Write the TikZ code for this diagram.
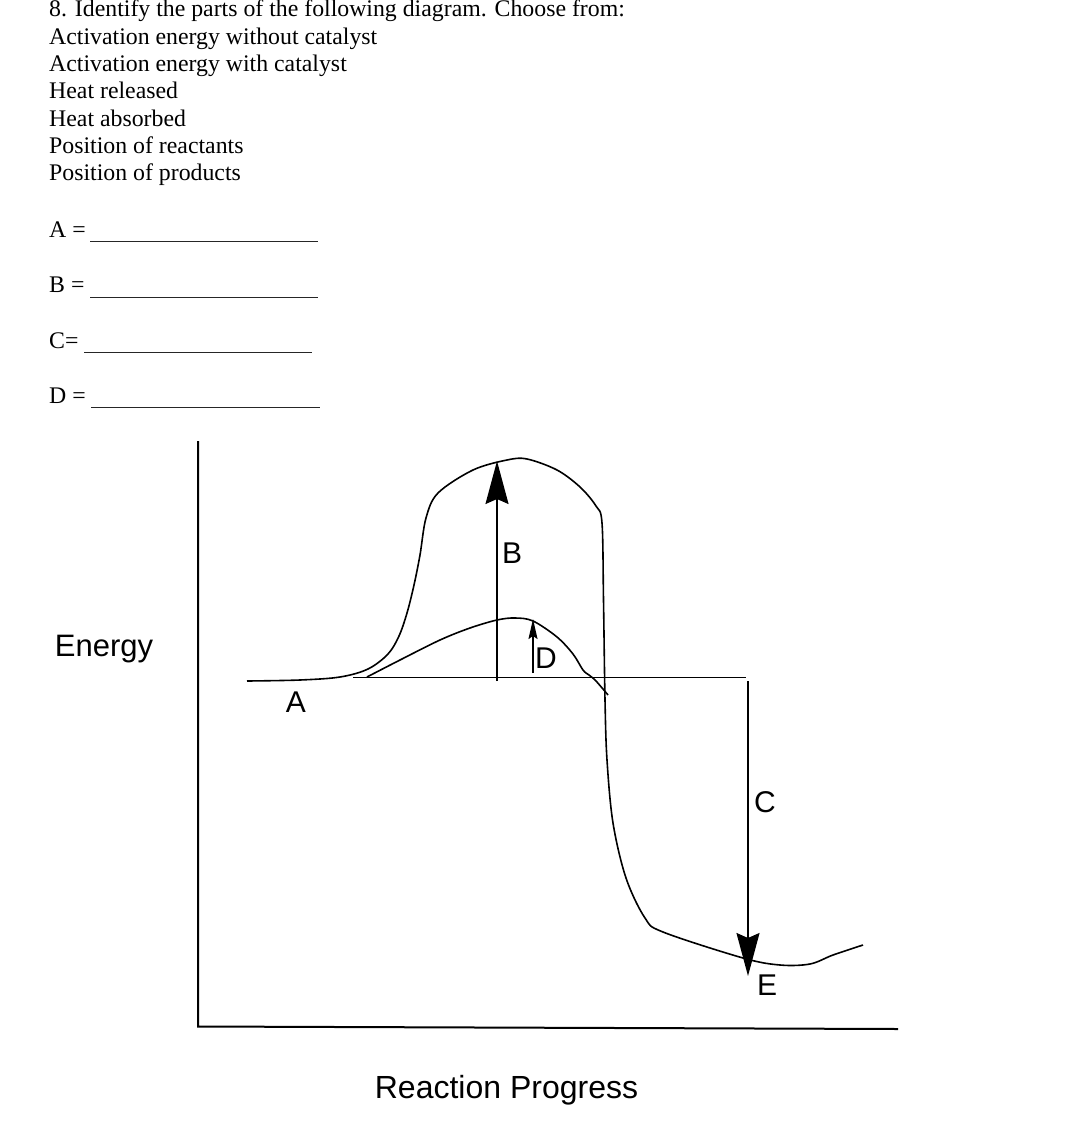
\documentclass[tikz,border=0pt]{standalone}
\usepackage{fontspec}
\setmainfont{Liberation Serif}
\newfontfamily\arialf{Liberation Sans}
\usetikzlibrary{arrows.meta}
\tikzset{
  qtext/.style={anchor=base west, inner sep=0pt, font=\fontsize{23.8}{27}\selectfont},
  blank/.style={line width=1pt, black!85},
  axis/.style={line width=2pt},
  curve/.style={line width=1.6pt, line join=round},
  lbl/.style={inner sep=0pt, font=\arialf\fontsize{30}{34}\selectfont},
  axlbl/.style={inner sep=0pt, font=\arialf\fontsize{31}{35}\selectfont},
  bigarrow/.style={line width=1.6pt, -{Stealth[length=43pt,width=23pt,inset=5pt]}},
  smallarrow/.style={line width=1.6pt, -{Stealth[length=20pt,width=9pt,inset=3pt]}},
}
\begin{document}
\begin{tikzpicture}[x=1pt,y=-1pt]
\useasboundingbox (0,0) rectangle (1074,1140);
% question text
\node[qtext] (q1) at (49,17) {8. Identify the parts of the following diagram. Choose from:};
\node[qtext] (q2) at (49,44.3) {Activation energy without catalyst};
\node[qtext] (q3) at (49,71.6) {Activation energy with catalyst};
\node[qtext] (q4) at (49,98.9) {Heat released};
\node[qtext] (q5) at (49,126.2) {Heat absorbed};
\node[qtext] (q6) at (49,153.5) {Position of reactants};
\node[qtext] (q7) at (49,180.8) {Position of products};
% answer blanks
\node[qtext] (aA) at (49,237) {A =};
\draw[blank] (90,241.5) -- (318,241.5);
\node[qtext] (aB) at (49,292.5) {B =};
\draw[blank] (90,297) -- (318,297);
\node[qtext] (aC) at (49,348) {C=};
\draw[blank] (84,352.5) -- (312,352.5);
\node[qtext] (aD) at (49,403.5) {D =};
\draw[blank] (91,407.5) -- (320,407.5);
% axes
\coordinate (ytop) at (198,441);
\coordinate (orig) at (198,1026.5);
\coordinate (xend) at (898,1029);
\draw[axis] (ytop) -- (orig) -- (xend);
% uncatalysed curve
\draw[curve] plot[smooth, tension=0.55] coordinates {
 (247,681) (300,680) (340,677) (368,669) (388,654) (399,636) (407,613)
 (414,585) (420,555) (426,518) (438,493) (473,470) (507,460) (527,459)
 (557,470) (580,487) (596,506) (602,523) (603.5,600) (605,700) (607,760)
 (613,823) (626,878) (645,918) (663,932) (743,958) (780,965) (810,964)
 (833,955) (863,945)};
% catalysed curve
\draw[curve] plot[smooth, tension=0.55] coordinates {
 (367,677) (400,660) (440,640) (470,628) (497,620) (515,618) (533,621)
 (557,637) (573,654) (583,670) (589,675) (596,681) (608,695)};
% reactant level line
\coordinate (lvlL) at (353,677.5);
\coordinate (lvlR) at (746,677.5);
\draw[curve] (lvlL) -- (lvlR);
% arrows
\coordinate (Bbot) at (497,681);
\coordinate (Btop) at (497,461);
\draw[bigarrow] (Bbot) -- (Btop);
\coordinate (Dbot) at (533,673);
\coordinate (Dtop) at (533,619);
\draw[smallarrow] (Dbot) -- (Dtop);
\coordinate (Ctop) at (748,681);
\coordinate (Cbot) at (748,976);
\draw[bigarrow] (Ctop) -- (Cbot);
% labels
\node[lbl] (lA) at (296,702) {A};
\node[lbl] (lB) at (512,553) {B};
\node[lbl] (lD) at (546,658) {D};
\node[lbl] (lC) at (765,802) {C};
\node[lbl] (lE) at (767,985) {E};
\node[axlbl] (energy) at (104,649) {Energy};
\node[lbl, font=\arialf\fontsize{32}{36}\selectfont] (progress) at (506.5,1090) {Reaction Progress};
\end{tikzpicture}
\end{document}
